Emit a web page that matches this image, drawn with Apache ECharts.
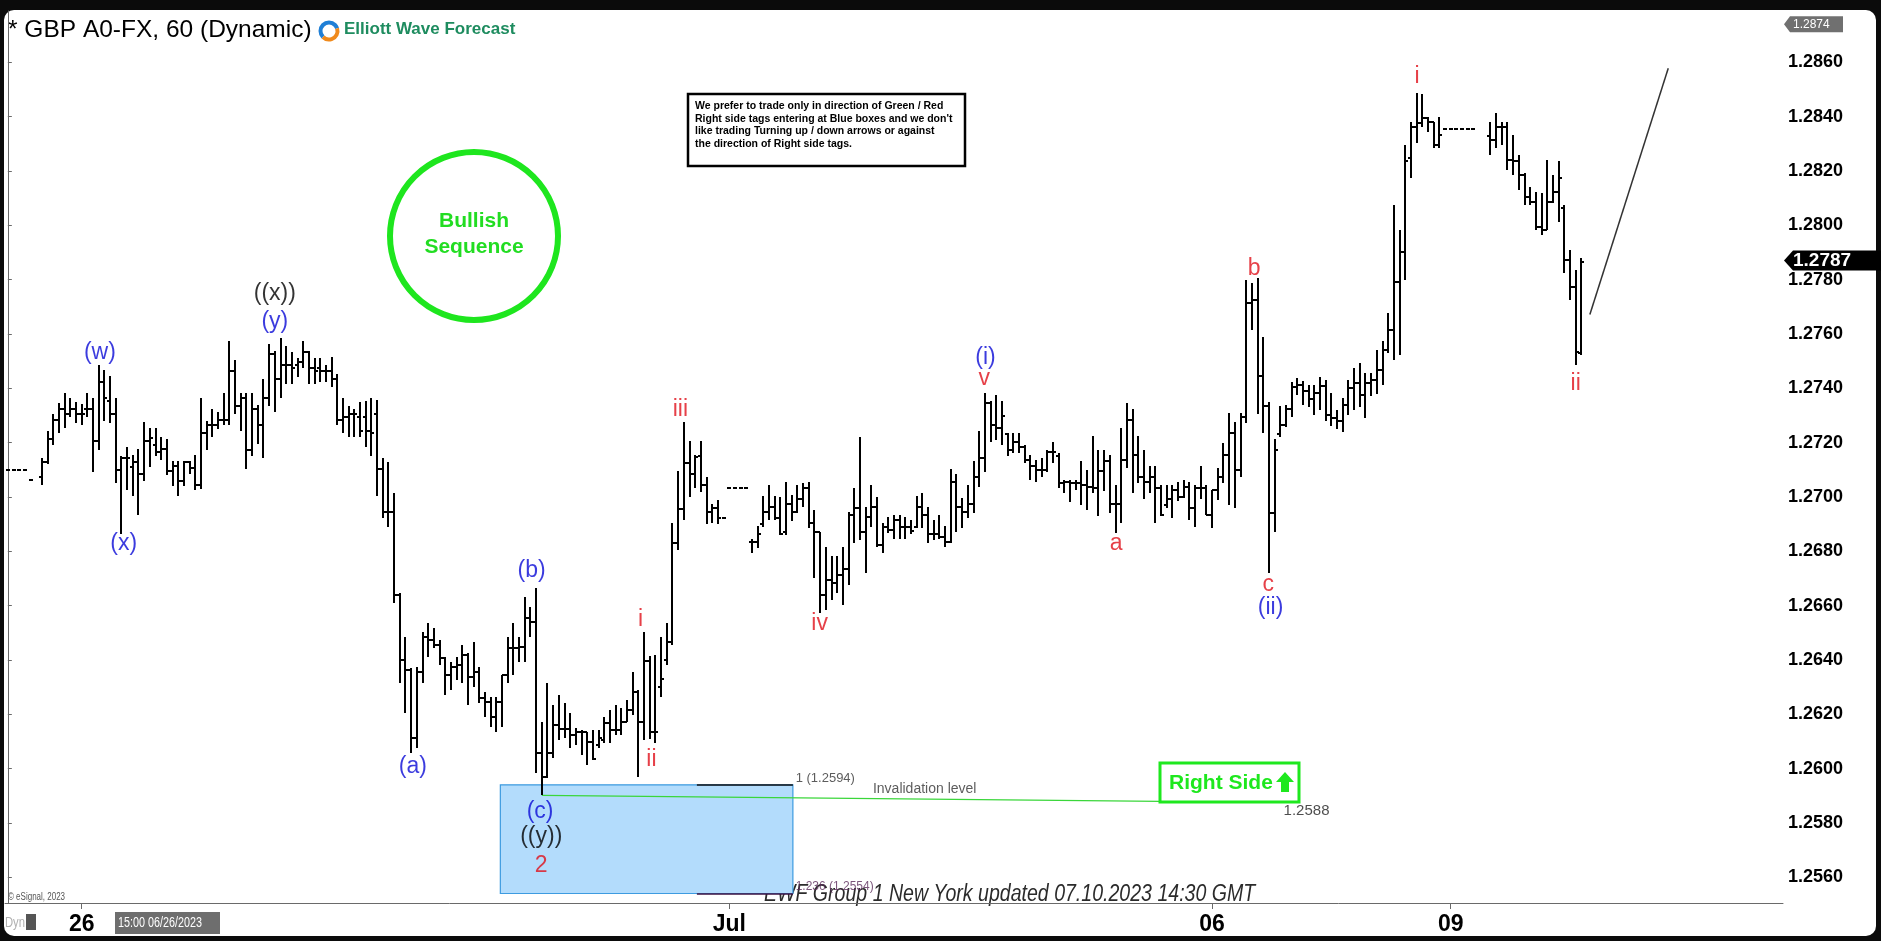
<!DOCTYPE html>
<html><head><meta charset="utf-8">
<style>
html,body{margin:0;padding:0;background:#0b0b0b;width:1881px;height:941px;overflow:hidden}
#panel{position:absolute;left:4px;top:10px;width:1872px;height:926px;background:#fff;border-radius:10px}
#chart{position:absolute;left:0;top:0;width:1881px;height:941px}
</style>
<script src="https://cdn.jsdelivr.net/npm/echarts/dist/echarts.min.js"></script>
</head><body><div id="panel"></div><div id="chart"></div>
<script>
// ---------- DATA (hourly OHLC, index = bar number) ----------
const opens = [
1.27100,1.27100,1.27100,1.27100,1.27063,null,1.27074,1.27130,1.27213,1.27284,
1.27323,1.27305,1.27323,1.27305,1.27323,1.27323,1.27206,1.27422,1.27354,1.27305,
1.27100,1.27145,1.27112,1.27130,1.27084,1.27206,1.27192,1.27167,1.27177,1.27095,
1.27114,1.27060,1.27127,1.27106,1.27043,1.27235,1.27264,1.27264,1.27284,1.27284,
1.27464,1.27335,1.27363,1.27173,1.27323,1.27265,1.27363,1.27525,1.27435,1.27486,
1.27486,1.27486,1.27495,1.27532,1.27474,1.27474,1.27465,1.27465,1.27433,1.27284,
1.27296,1.27305,1.27294,1.27294,1.27243,1.27305,1.27102,1.26944,1.26944,1.26639,
1.26400,1.26363,1.26111,1.26357,1.26486,1.26473,1.26455,1.26406,1.26345,1.26375,
1.26381,1.26418,1.26338,1.26357,1.26259,1.26246,1.26191,1.26246,1.26345,1.26443,
1.26443,1.26449,1.26553,1.26541,1.26056,1.25970,1.26056,1.26160,1.26145,1.26145,
1.26124,1.26136,1.26136,1.26099,1.26087,1.26105,1.26167,1.26142,1.26142,1.26173,
1.26216,1.26283,1.26173,1.26396,1.26136,1.26300,1.26400,1.26467,1.26832,1.26955,
1.27124,1.27083,1.27151,1.27044,1.26943,1.26960,1.26924,1.27032,1.27032,1.27032,
1.27032,1.26833,1.26833,1.26900,1.26943,1.26962,1.26921,1.26870,1.26974,1.26943,
1.26991,1.27034,1.26903,1.26872,1.26639,1.26694,1.26682,1.26713,1.26734,1.26934,
1.26958,1.26872,1.26925,1.26964,1.26823,1.26891,1.26879,1.26915,1.26891,1.26891,
1.26890,1.26964,1.26934,1.26864,1.26864,1.26854,1.26835,1.27056,1.26962,1.26943,
1.26974,1.27072,1.27142,1.27347,1.27265,1.27253,1.27230,1.27173,1.27204,1.27185,
1.27136,1.27114,1.27099,1.27099,1.27167,1.27150,1.27050,1.27056,1.27050,1.27050,
1.27044,1.27036,1.27032,1.27097,1.27133,1.26974,1.26974,1.27136,1.27283,1.27155,
1.27075,1.27056,1.27075,1.27032,1.26970,1.26992,1.27026,1.27001,1.27036,1.26961,
1.27032,1.27032,1.26934,1.27026,1.27075,1.27155,1.27237,1.27099,1.27296,1.27713,
1.27725,1.27445,1.27335,1.26940,1.27230,1.27265,1.27322,1.27406,1.27412,1.27390,
1.27360,1.27382,1.27410,1.27300,1.27290,1.27280,1.27340,1.27400,1.27419,1.27376,
1.27420,1.27430,1.27468,1.27540,1.27615,1.27793,1.27903,1.28247,1.28363,1.28376,
1.28394,1.28382,1.28296,1.28354,1.28354,1.28354,1.28354,1.28354,1.28354,null,
null,1.28330,1.28314,1.28363,1.28363,1.28241,1.28235,1.28185,1.28106,1.28087,
1.27995,1.27983,1.28087,1.28124,1.28063,1.27873,1.27774,1.27529];
const highs = [
1.27100,1.27100,1.27100,1.27100,1.27063,null,1.27143,1.27243,1.27305,1.27347,
1.27382,1.27363,1.27351,1.27343,1.27382,1.27363,1.27486,1.27468,1.27446,1.27363,
1.27151,1.27183,1.27155,1.27176,1.27275,1.27253,1.27255,1.27222,1.27213,1.27133,
1.27133,1.27133,1.27133,1.27155,1.27363,1.27278,1.27324,1.27312,1.27384,1.27575,
1.27505,1.27382,1.27382,1.27382,1.27339,1.27433,1.27562,1.27538,1.27584,1.27556,
1.27532,1.27513,1.27575,1.27538,1.27513,1.27513,1.27486,1.27517,1.27453,1.27363,
1.27333,1.27324,1.27351,1.27354,1.27363,1.27357,1.27143,1.27127,1.27014,1.26645,
1.26486,1.26370,1.26375,1.26504,1.26535,1.26516,1.26473,1.26412,1.26394,1.26412,
1.26455,1.26424,1.26467,1.26375,1.26283,1.26265,1.26265,1.26345,1.26486,1.26535,
1.26486,1.26633,1.26596,1.26664,1.26173,1.26314,1.26234,1.26271,1.26240,1.26203,
1.26148,1.26142,1.26136,1.26142,1.26142,1.26191,1.26216,1.26234,1.26222,1.26253,
1.26357,1.26289,1.26502,1.26415,1.26418,1.26486,1.26535,1.26903,1.27097,1.27277,
1.27206,1.27155,1.27206,1.27072,1.26973,1.26987,1.26924,1.27032,1.27032,1.27032,
1.27032,1.26844,1.26893,1.27004,1.27044,1.27004,1.27001,1.27056,1.27007,1.27044,
1.27050,1.27056,1.26952,1.26872,1.26817,1.26783,1.26783,1.26817,1.26946,1.27032,
1.27222,1.26964,1.27044,1.27001,1.26903,1.26925,1.26934,1.26934,1.26925,1.26915,
1.27004,1.27013,1.26964,1.26915,1.26934,1.26893,1.27102,1.27085,1.26995,1.27044,
1.27132,1.27243,1.27382,1.27354,1.27375,1.27355,1.27237,1.27234,1.27234,1.27191,
1.27155,1.27136,1.27142,1.27173,1.27204,1.27160,1.27062,1.27062,1.27062,1.27133,
1.27099,1.27224,1.27173,1.27173,1.27155,1.27044,1.27253,1.27345,1.27322,1.27224,
1.27173,1.27114,1.27114,1.27044,1.27044,1.27044,1.27056,1.27062,1.27056,1.27044,
1.27114,1.27044,1.27026,1.27106,1.27197,1.27308,1.27277,1.27310,1.27799,1.27786,
1.27805,1.27590,1.27351,1.27212,1.27335,1.27338,1.27424,1.27437,1.27425,1.27412,
1.27412,1.27443,1.27431,1.27382,1.27320,1.27363,1.27431,1.27474,1.27492,1.27455,
1.27455,1.27541,1.27574,1.27676,1.28075,1.27983,1.28296,1.28382,1.28486,1.28484,
1.28400,1.28382,1.28400,1.28354,1.28354,1.28354,1.28354,1.28354,1.28354,null,
null,1.28382,1.28412,1.28382,1.28382,1.28333,1.28259,1.28192,1.28142,1.28124,
1.28118,1.28241,1.28185,1.28235,1.28075,1.27909,1.27836,1.27880];
const lows = [
1.27100,1.27100,1.27100,1.27100,1.27063,null,1.27043,1.27120,1.27192,1.27235,
1.27252,1.27294,1.27274,1.27263,1.27294,1.27093,1.27171,1.27281,1.27271,1.27053,
1.26864,1.27024,1.27002,1.26932,1.27059,1.27112,1.27149,1.27136,1.27081,1.27041,
1.27002,1.27041,1.27085,1.27024,1.27030,1.27171,1.27222,1.27251,1.27263,1.27263,
1.27305,1.27244,1.27102,1.27151,1.27194,1.27143,1.27333,1.27311,1.27363,1.27416,
1.27416,1.27441,1.27474,1.27416,1.27416,1.27422,1.27422,1.27404,1.27265,1.27235,
1.27222,1.27222,1.27222,1.27183,1.27152,1.27004,1.26922,1.26891,1.26610,1.26314,
1.26203,1.26056,1.26075,1.26314,1.26412,1.26443,1.26381,1.26271,1.26289,1.26326,
1.26314,1.26234,1.26302,1.26240,1.26191,1.26154,1.26136,1.26154,1.26314,1.26345,
1.26394,1.26394,1.26486,1.25983,1.25901,1.25964,1.26038,1.26105,1.26111,1.26075,
1.26087,1.26050,1.26013,1.26032,1.26075,1.26093,1.26093,1.26124,1.26124,1.26173,
1.26197,1.25970,1.26105,1.26110,1.26093,1.26265,1.26382,1.26455,1.26805,1.26915,
1.27001,1.27032,1.27019,1.26900,1.26903,1.26900,1.26924,1.27032,1.27032,1.27032,
1.27032,1.26792,1.26811,1.26891,1.26915,1.26915,1.26860,1.26860,1.26913,1.26942,
1.26962,1.26885,1.26700,1.26572,1.26584,1.26621,1.26645,1.26603,1.26676,1.26832,
1.26842,1.26721,1.26891,1.26817,1.26792,1.26866,1.26844,1.26844,1.26844,1.26864,
1.26885,1.26885,1.26832,1.26842,1.26844,1.26815,1.26832,1.26872,1.26885,1.26921,
1.26942,1.27038,1.27093,1.27204,1.27210,1.27191,1.27151,1.27163,1.27161,1.27124,
1.27062,1.27056,1.27075,1.27093,1.27124,1.27032,1.27013,1.26983,1.27026,1.26971,
1.26952,1.27013,1.26930,1.27023,1.26940,1.26866,1.26903,1.27106,1.27013,1.27050,
1.26991,1.27013,1.26903,1.26930,1.26958,1.26921,1.26985,1.26995,1.26915,1.26891,
1.26991,1.26934,1.26885,1.26989,1.27050,1.26971,1.26958,1.27075,1.27274,1.27615,
1.27305,1.27234,1.26720,1.26872,1.27222,1.27259,1.27296,1.27375,1.27340,1.27330,
1.27300,1.27320,1.27280,1.27260,1.27250,1.27240,1.27300,1.27320,1.27330,1.27290,
1.27370,1.27380,1.27412,1.27530,1.27505,1.27523,1.27799,1.28173,1.28302,1.28363,
1.28345,1.28284,1.28284,1.28354,1.28354,1.28354,1.28354,1.28354,1.28354,null,
null,1.28259,1.28284,1.28296,1.28204,1.28185,1.28130,1.28075,1.28075,1.27983,
1.27965,1.27983,1.28081,1.28014,1.27824,1.27725,1.27486,1.27523];
const closes = [
1.27100,1.27100,1.27100,1.27100,1.27063,null,1.27128,1.27213,1.27284,1.27323,
1.27305,1.27323,1.27305,1.27305,1.27323,1.27206,1.27422,1.27363,1.27305,1.27100,
1.27145,1.27145,1.27130,1.27084,1.27206,1.27216,1.27165,1.27177,1.27095,1.27114,
1.27060,1.27127,1.27106,1.27043,1.27235,1.27264,1.27264,1.27284,1.27284,1.27464,
1.27335,1.27363,1.27173,1.27323,1.27265,1.27363,1.27525,1.27435,1.27486,1.27486,
1.27476,1.27495,1.27532,1.27474,1.27465,1.27465,1.27465,1.27433,1.27284,1.27296,
1.27305,1.27305,1.27243,1.27243,1.27235,1.27102,1.26944,1.26944,1.26639,1.26400,
1.26363,1.26111,1.26357,1.26486,1.26473,1.26455,1.26406,1.26345,1.26375,1.26381,
1.26418,1.26338,1.26357,1.26259,1.26246,1.26191,1.26246,1.26345,1.26443,1.26443,
1.26449,1.26553,1.26541,1.26056,1.25970,1.26056,1.26160,1.26145,1.26145,1.26124,
1.26136,1.26136,1.26099,1.26035,1.26111,1.26167,1.26142,1.26142,1.26173,1.26216,
1.26283,1.26173,1.26396,1.26136,1.26136,1.26329,1.26467,1.26832,1.26955,1.27124,
1.27083,1.27148,1.27044,1.26943,1.26960,1.26924,1.26924,1.27032,1.27032,1.27032,
1.27032,1.26833,1.26864,1.26943,1.26962,1.26921,1.26864,1.26974,1.26943,1.26991,
1.27034,1.26903,1.26872,1.26639,1.26694,1.26682,1.26713,1.26734,1.26934,1.26958,
1.26872,1.26925,1.26964,1.26823,1.26891,1.26879,1.26915,1.26891,1.26891,1.26876,
1.26964,1.26934,1.26864,1.26864,1.26854,1.26835,1.27056,1.26962,1.26943,1.26974,
1.27072,1.27142,1.27347,1.27265,1.27253,1.27298,1.27173,1.27204,1.27185,1.27136,
1.27114,1.27099,1.27099,1.27167,1.27167,1.27050,1.27056,1.27050,1.27050,1.27044,
1.27036,1.27032,1.27097,1.27133,1.26974,1.26974,1.27136,1.27283,1.27155,1.27075,
1.27056,1.27075,1.27032,1.26934,1.26992,1.27026,1.27001,1.27036,1.26961,1.27032,
1.27032,1.26934,1.27026,1.27075,1.27155,1.27237,1.27099,1.27296,1.27713,1.27725,
1.27445,1.27335,1.26940,1.27173,1.27265,1.27322,1.27406,1.27412,1.27390,1.27360,
1.27382,1.27410,1.27300,1.27290,1.27280,1.27340,1.27400,1.27419,1.27376,1.27420,
1.27430,1.27468,1.27540,1.27615,1.27793,1.27903,1.28235,1.28363,1.28376,1.28394,
1.28382,1.28296,1.28333,1.28354,1.28354,1.28354,1.28354,1.28354,1.28354,null,
null,1.28314,1.28363,1.28363,1.28241,1.28235,1.28185,1.28106,1.28087,1.27995,
1.27983,1.28087,1.28124,1.28173,1.27873,1.27774,1.27535,1.27866];

const totalSlots = 313;                       // bar slots across the x axis (incl. empty future space)
const xTickIndex = [13, 127, 212, 254];
const xTickText  = ['26', 'Jul', '06', '09'];
const yTickValues = [1.2560,1.2580,1.2600,1.2620,1.2640,1.2660,1.2680,1.2700,1.2720,1.2740,1.2760,1.2780,1.2800,1.2820,1.2840,1.2860];
const yRange = [1.25505, 1.28789];

const waveText  = ['(w)','(x)','((x))','(y)','(a)','(b)','(c)','((y))','2','i','ii','iii','iv','v','(i)','a','b','c','(ii)','i','ii'];
const waveX     = [16.2, 20.4, 47.0, 47.0, 71.3, 92.2, 93.7, 93.9, 93.9, 111.4, 113.3, 118.4, 142.9, 171.9, 172.1, 195.1, 219.4, 221.9, 222.3, 248.1, 276.0];
const wavePrice = [1.27531,1.26828,1.27747,1.27646,1.26007,1.26727,1.25843,1.25750,1.25644,1.26550,1.26033,1.27323,1.26532,1.27434,1.27513,1.26828,1.27840,1.26678,1.26594,1.28547,1.27416];
const waveColor = ['#0a0ad6','#0a0ad6','#000000','#0a0ad6','#0a0ad6','#0a0ad6','#0a0ad6','#000000','#e0101a','#e0101a','#e0101a','#e0101a','#e0101a','#e0101a','#0a0ad6','#e0101a','#e0101a','#e0101a','#0a0ad6','#e0101a','#e0101a'];

const boxX = [86.7, 138.2];
const boxPrice = [1.2594, 1.2554];
const fibX = [121.3, 138.2];
const fibLevels = [1.2594, 1.2554];
const noteText  = ['1 (1.2594)', '1.236 (1.2554)', 'Invalidation level', '1.2588'];
const noteX     = [138.6, 138.6, 152.2, 224.5];
const notePrice = [1.25962, 1.25565, 1.25925, 1.25844];
const noteColor = ['#333333', '#5a2a5a', '#333333', '#222222'];
const noteSize  = [13, 12, 14, 15];
const invalidX = [94.0, 212.0];
const invalidPrice = [1.25901, 1.25877];
const projX = [278.5, 292.3];
const projPrice = [1.27672, 1.28578];
const lastPrice = 1.2787;
const highTag = 1.2874;

// ---------- CHART ----------
const F  = "'Liberation Sans', Arial, Helvetica, sans-serif";
const chart = echarts.init(document.getElementById('chart'), null, {renderer:'canvas', width:1881, height:941});

const barData = [];
for (let i = 0; i < opens.length; i++) {
  if (opens[i] == null) continue;
  barData.push([i, opens[i], highs[i], lows[i], closes[i]]);
}

function renderOHLC(params, api) {
  const x = api.value(0);
  const ph = api.coord([x, api.value(2)]);
  const pl = api.coord([x, api.value(3)]);
  const po = api.coord([x, api.value(1)]);
  const pc = api.coord([x, api.value(4)]);
  const cx = Math.round(ph[0]);
  const st = {stroke:'#000', lineWidth:2};
  if (api.value(2) === api.value(3)) {       // flat bar -> short dash
    const y = Math.round(ph[1]);
    return {type:'line', shape:{x1:cx-2, y1:y, x2:cx+2, y2:y}, style:st};
  }
  const yo = Math.round(po[1]), yc = Math.round(pc[1]);
  return {type:'group', children:[
    {type:'line', shape:{x1:cx, y1:Math.round(ph[1]), x2:cx, y2:Math.round(pl[1])}, style:st},
    {type:'line', shape:{x1:cx-3, y1:yo, x2:cx, y2:yo}, style:st},
    {type:'line', shape:{x1:cx, y1:yc, x2:cx+3, y2:yc}, style:st}
  ]};
}

const staticGraphics = [
  {type:'text', left:8, top:18, style:{text:'* GBP A0-FX, 60 (Dynamic)', font:"24.5px "+F, fill:'#000'}},
  {type:'arc', shape:{cx:329, cy:31, r:8.5, startAngle:Math.PI*0.75, endAngle:Math.PI*1.9}, style:{stroke:'#1f7fd6', lineWidth:4, fill:null}},
  {type:'arc', shape:{cx:329, cy:31, r:8.5, startAngle:-Math.PI*0.1, endAngle:Math.PI*0.75}, style:{stroke:'#f08a1c', lineWidth:4, fill:null}},
  {type:'text', left:344, top:21, style:{text:'Elliott Wave Forecast', font:"bold 17px "+F, fill:'#1e8c5f'}},
  {type:'rect', shape:{x:688, y:94, width:277, height:72}, style:{fill:'#fff', stroke:'#000', lineWidth:2.5}},
  {type:'text', left:695, top:100, style:{text:"We prefer to trade only in direction of Green / Red\nRight side tags entering at Blue boxes and we don't\nlike trading Turning up / down arrows or against\nthe direction of Right side tags.", font:"bold 10.5px "+F, fill:'#000', lineHeight:12.5}},
  {type:'circle', shape:{cx:474, cy:236, r:84}, style:{fill:'#fff', stroke:'#1ee61e', lineWidth:6}},
  {type:'text', x:474, y:221, style:{text:'Bullish', font:"bold 21px "+F, fill:'#22dd22', textAlign:'center', textVerticalAlign:'middle'}},
  {type:'text', x:474, y:247, style:{text:'Sequence', font:"bold 21px "+F, fill:'#22dd22', textAlign:'center', textVerticalAlign:'middle'}},
  {type:'rect', z:20, shape:{x:1160, y:763, width:139, height:39}, style:{fill:'#fff', stroke:'#1ee81e', lineWidth:3}},
  {type:'text', z:21, x:1169, y:783, style:{text:'Right Side', font:"bold 21px "+F, fill:'#1ee81e', textVerticalAlign:'middle'}},
  {type:'polygon', z:21, shape:{points:[[1285,772],[1294,782],[1289,782],[1289,792],[1281,792],[1281,782],[1276,782]]}, style:{fill:'#1ee81e'}},
  {type:'text', x:764, y:895, scaleX:0.85, style:{text:'EWF Group 1 New York updated 07.10.2023 14:30 GMT', font:"italic 23px "+F, fill:'#2b2b2b', textVerticalAlign:'middle', textShadowColor:'#9a9a9a', textShadowOffsetX:1, textShadowOffsetY:1, textShadowBlur:0}},
  {type:'text', x:8, y:897, scaleX:0.8, style:{text:'\u00a9 eSignal, 2023', font:"10px "+F, fill:'#555', textVerticalAlign:'middle'}},
  {type:'text', x:5, y:923, scaleX:0.75, style:{text:'Dyn', font:"15px "+F, fill:'#b0b0b0', textVerticalAlign:'middle'}},
  {type:'rect', shape:{x:26, y:914, width:10, height:16}, style:{fill:'#555'}},
  {type:'rect', shape:{x:115, y:912, width:105, height:22}, style:{fill:'#6e6e6e'}},
  {type:'text', x:118, y:923, scaleX:0.72, style:{text:'15:00 06/26/2023', font:"15px "+F, fill:'#fff', textVerticalAlign:'middle'}}
].map((g, k) => Object.assign({id:'s'+k}, g));

const option = {
  animation:false,
  backgroundColor:'transparent',
  grid:{left:5, right:98, top:11, bottom:38},
  xAxis:{
    type:'value', min:-0.5, max:totalSlots-0.5,
    axisLine:{show:true, onZero:false, lineStyle:{color:'#6a6a6a', width:1}},
    axisTick:{show:true, customValues:xTickIndex, length:6, lineStyle:{color:'#6a6a6a'}},
    axisLabel:{customValues:xTickIndex, formatter:v => xTickText[xTickIndex.indexOf(Math.round(v))],
      fontFamily:F, fontWeight:'bold', fontSize:23, color:'#000', margin:10},
    splitLine:{show:false}
  },
  yAxis:{
    type:'value', position:'right', min:yRange[0], max:yRange[1], scale:true,
    axisLine:{show:true, lineStyle:{color:'#6a6a6a', width:1}},
    axisTick:{show:true, customValues:yTickValues, length:4, lineStyle:{color:'#6a6a6a'}},
    axisLabel:{customValues:yTickValues, formatter:v => v.toFixed(4), fontFamily:F, fontWeight:'bold', fontSize:18, color:'#000', margin:5},
    splitLine:{show:false}
  },
  series:[
    {type:'line', data:[], silent:true, z:1,
      markArea:{silent:true, data:[[
        {coord:[boxX[0], boxPrice[0]], itemStyle:{color:'#b3dcfc', borderColor:'#3d9be0', borderWidth:1.2}},
        {coord:[boxX[1], boxPrice[1]]}
      ]]},
      markLine:{silent:true, symbol:['none','none'], label:{show:false}, data:[
        [{coord:[fibX[0], fibLevels[0]], lineStyle:{color:'#111', width:1.5, type:'solid'}}, {coord:[fibX[1], fibLevels[0]]}],
        [{coord:[fibX[0], fibLevels[1]], lineStyle:{color:'#3c1040', width:1.5, type:'solid'}}, {coord:[fibX[1], fibLevels[1]]}],
        [{coord:[invalidX[0], invalidPrice[0]], lineStyle:{color:'#3ad63a', width:1.3, type:'solid'}}, {coord:[invalidX[1], invalidPrice[1]]}],
        [{coord:[projX[0], projPrice[0]], lineStyle:{color:'#333', width:1.5, type:'solid'}}, {coord:[projX[1], projPrice[1]]}]
      ]}
    },
    {type:'custom', name:'GBP', renderItem:renderOHLC, data:barData, encode:{x:0, y:[1,2,3,4]}, z:5, silent:true, clip:false},
    {type:'scatter', z:10, silent:true, symbolSize:1, itemStyle:{color:'rgba(0,0,0,0)'},
      data: waveText.map((t, k) => ({value:[waveX[k], wavePrice[k]],
        label:{show:true, position:'inside', formatter:t, color:waveColor[k], fontFamily:F, fontSize:23}}))
    },
    {type:'scatter', z:10, silent:true, symbolSize:1, itemStyle:{color:'rgba(0,0,0,0)'},
      data: noteText.map((t, k) => ({value:[noteX[k], notePrice[k]],
        label:{show:true, position:'right', distance:0, formatter:t, color:noteColor[k], fontFamily:F, fontSize:noteSize[k]}}))
    }
  ],
  graphic:{elements:staticGraphics}
};
chart.setOption(option);

// price tags on the right axis, placed with the axis scale
const axisX = chart.convertToPixel({xAxisIndex:0}, totalSlots-0.5);
const yHigh = chart.convertToPixel({yAxisIndex:0}, highTag);
const yLast = chart.convertToPixel({yAxisIndex:0}, lastPrice);
chart.setOption({graphic:{elements:[
  {id:'tagHigh', type:'polygon', z:30, shape:{points:[[axisX+1,yHigh],[axisX+7,yHigh-8],[axisX+60,yHigh-8],[axisX+60,yHigh+8],[axisX+7,yHigh+8]]}, style:{fill:'#707070'}},
  {id:'tagHighT', type:'text', z:31, x:axisX+10, y:yHigh, style:{text:highTag.toFixed(4), font:"12px "+F, fill:'#fff', textVerticalAlign:'middle'}},
  {id:'tagLast', type:'polygon', z:30, shape:{points:[[axisX+1,yLast],[axisX+10,yLast-10],[1881,yLast-10],[1881,yLast+10],[axisX+10,yLast+10]]}, style:{fill:'#000'}},
  {id:'tagLastT', type:'text', z:31, x:axisX+10, y:yLast, style:{text:lastPrice.toFixed(4), font:"bold 19px "+F, fill:'#fff', textVerticalAlign:'middle'}}
]}});
</script></body></html>
